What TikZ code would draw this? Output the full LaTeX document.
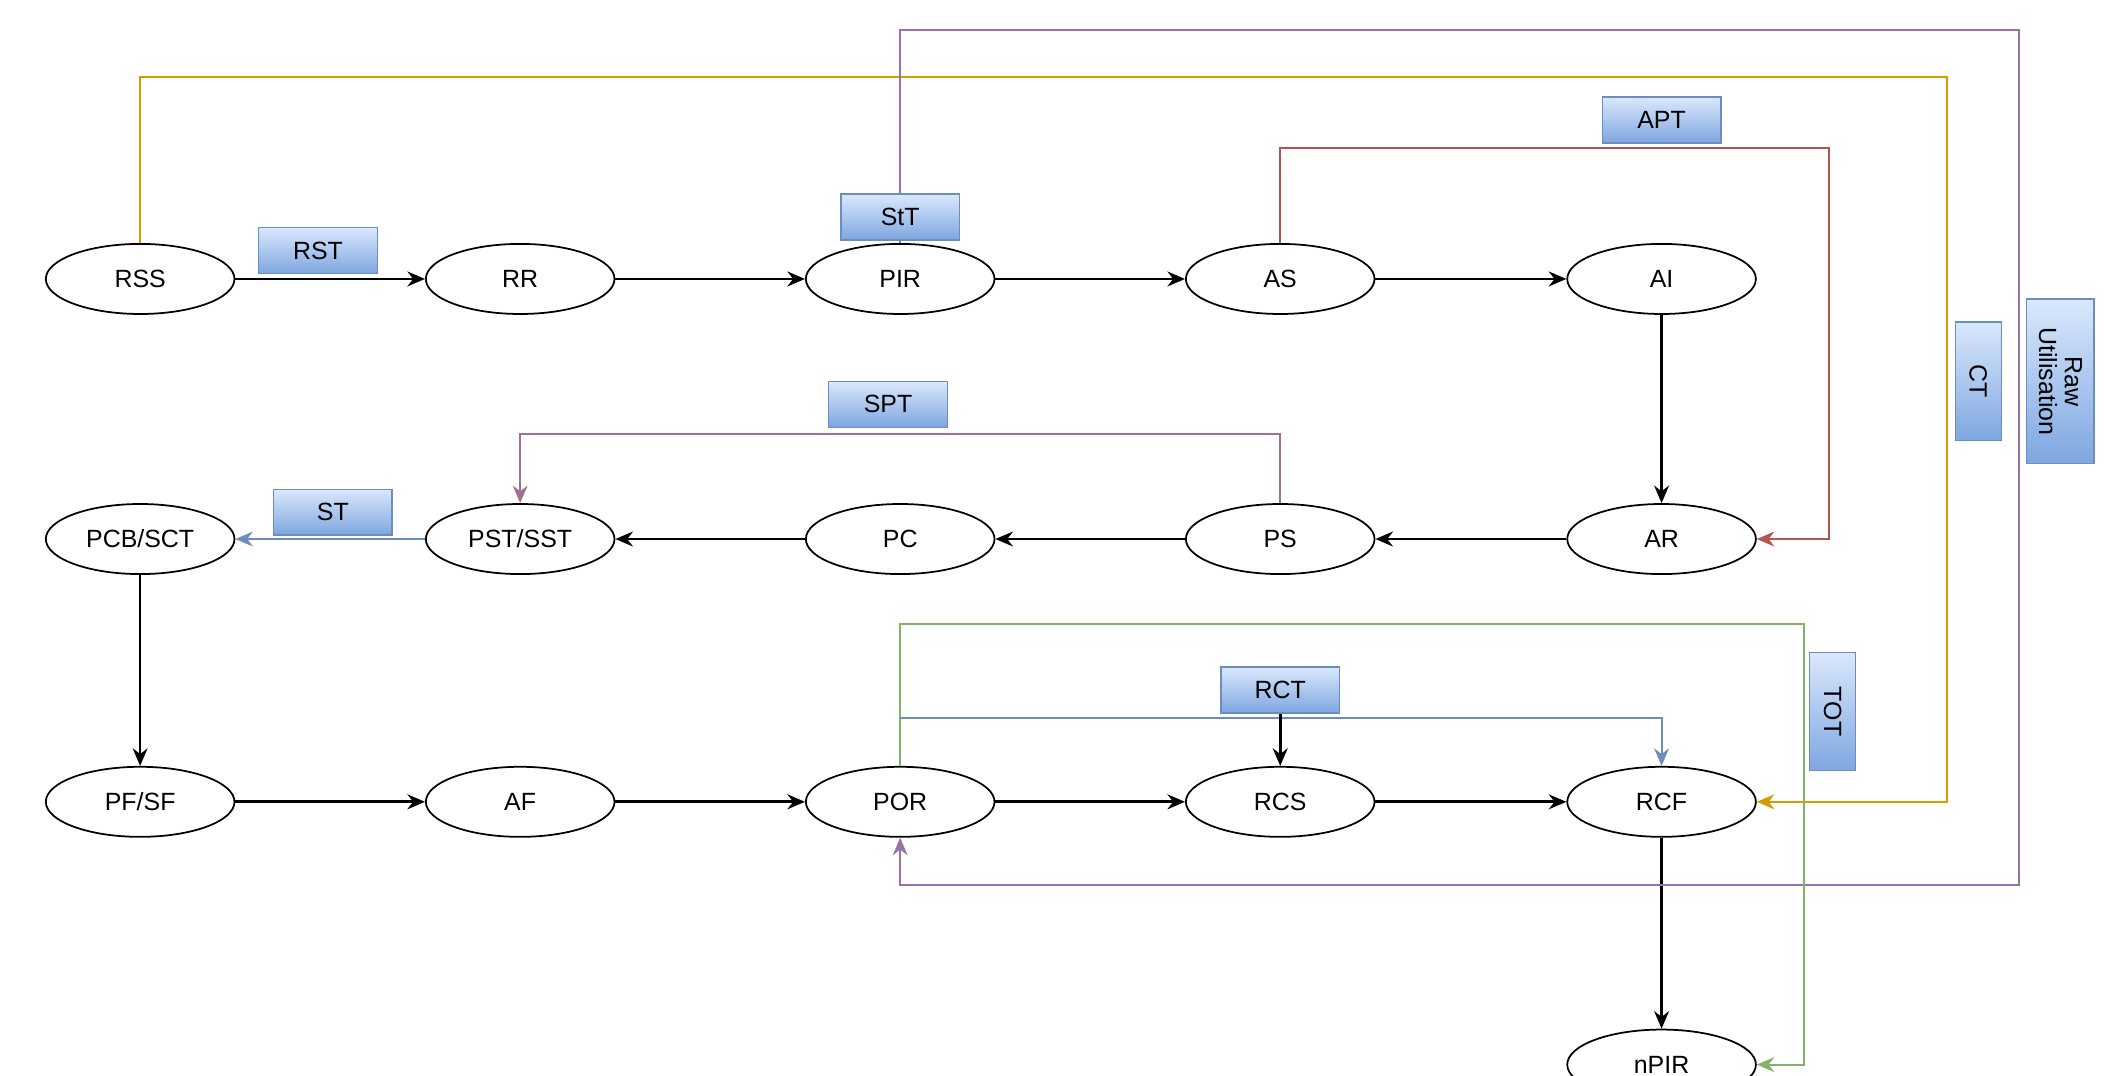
\documentclass[tikz,border=0pt]{standalone}
\usepackage{fontspec}
\setmainfont{Liberation Sans}
\usetikzlibrary{arrows.meta,shapes.geometric}
\definecolor{cO}{HTML}{D79B00}
\definecolor{cP}{HTML}{9673A6}
\definecolor{cR}{HTML}{B85450}
\definecolor{cM}{HTML}{A36F92}
\definecolor{cG}{HTML}{82B366}
\definecolor{cB}{HTML}{6C8EBF}
\definecolor{gT}{HTML}{DAE8FC}
\definecolor{gB}{HTML}{7EA6E0}
\begin{document}
\begin{tikzpicture}[x=1pt,y=-1pt,
  every node/.style={font=\fontsize{18.5}{21}\selectfont},
  st/.style={ellipse,draw,line width=1.3pt,minimum width=140pt,minimum height=52pt,inner sep=0pt},
  lbl/.style={draw=cB,line width=1pt,top color=gT,bottom color=gB,minimum width=88pt,minimum height=34pt,inner sep=1pt},
  blk/.style={line width=2pt,-{Stealth[length=13pt,width=11pt]}},
  col/.style={line width=1.4pt,-{Stealth[length=13pt,width=11pt]}}]
\useasboundingbox (0,0) rectangle (1568,798);
\node[st] (RSS) at (104,207) {RSS};
\node[st] (RR) at (386,207) {RR};
\node[st] (PIR) at (668,207) {PIR};
\node[st] (AS) at (950,207) {AS};
\node[st] (AI) at (1233,207) {AI};
\node[st] (PCB) at (104,400) {PCB/SCT};
\node[st] (PST) at (386,400) {PST/SST};
\node[st] (PC) at (668,400) {PC};
\node[st] (PS) at (950,400) {PS};
\node[st] (AR) at (1233,400) {AR};
\node[st] (PF) at (104,595) {PF/SF};
\node[st] (AF) at (386,595) {AF};
\node[st] (POR) at (668,595) {POR};
\node[st] (RCS) at (950,595) {RCS};
\node[st] (RCF) at (1233,595) {RCF};
\node[st] (nPIR) at (1233,790) {nPIR};
\draw[blk] (RSS) -- (RR);
\draw[blk] (RR) -- (PIR);
\draw[blk] (PIR) -- (AS);
\draw[blk] (AS) -- (AI);
\draw[blk] (AI) -- (AR);
\draw[blk] (AR) -- (PS);
\draw[blk] (PS) -- (PC);
\draw[blk] (PC) -- (PST);
\draw[col,draw=cB] (PST) -- (PCB);
\draw[blk] (PCB) -- (PF);
\draw[blk] (PF) -- (AF);
\draw[blk] (AF) -- (POR);
\draw[blk] (POR) -- (RCS);
\draw[blk] (RCS) -- (RCF);
\draw[blk] (RCF) -- (nPIR);
\draw[col,draw=cO] (RSS.north) -- (104,57) -- (1445,57) -- (1445,595) -- (RCF.east);
\draw[col,draw=cP] (PIR.north) -- (668,22) -- (1498,22) -- (1498,657) -- (668,657) -- (POR.south);
\draw[col,draw=cR] (AS.north) -- (950,110) -- (1357,110) -- (1357,400) -- (AR.east);
\draw[col,draw=cM] (PS.north) -- (950,322) -- (386,322) -- (PST.north);
\draw[col,draw=cG] (POR.north) -- (668,463) -- (1339,463) -- (1339,790) -- (nPIR.east);
\coordinate (bj) at (668,533);
\draw[col,draw=cB] (bj) -- (1233,533) -- (RCF.north);
\node[lbl] (RST) at (236,186) {RST};
\node[lbl] (StT) at (668,161) {StT};
\node[lbl] (APT) at (1233,89) {APT};
\node[lbl] (SPT) at (659,300) {SPT};
\node[lbl] (ST) at (247,380) {ST};
\node[lbl] (RCT) at (950,512) {RCT};
\draw[blk] (RCT.south) -- (RCS.north);
\node[lbl,rotate=-90] (CT) at (1468,283) {CT};
\node[lbl,rotate=-90,minimum width=122pt,minimum height=50pt,align=center,font=\fontsize{18.5}{19}\selectfont] (RU) at (1529,283) {Raw\\Utilisation};
\node[lbl,rotate=-90] (TOT) at (1360,528) {TOT};
\end{tikzpicture}
\end{document}
